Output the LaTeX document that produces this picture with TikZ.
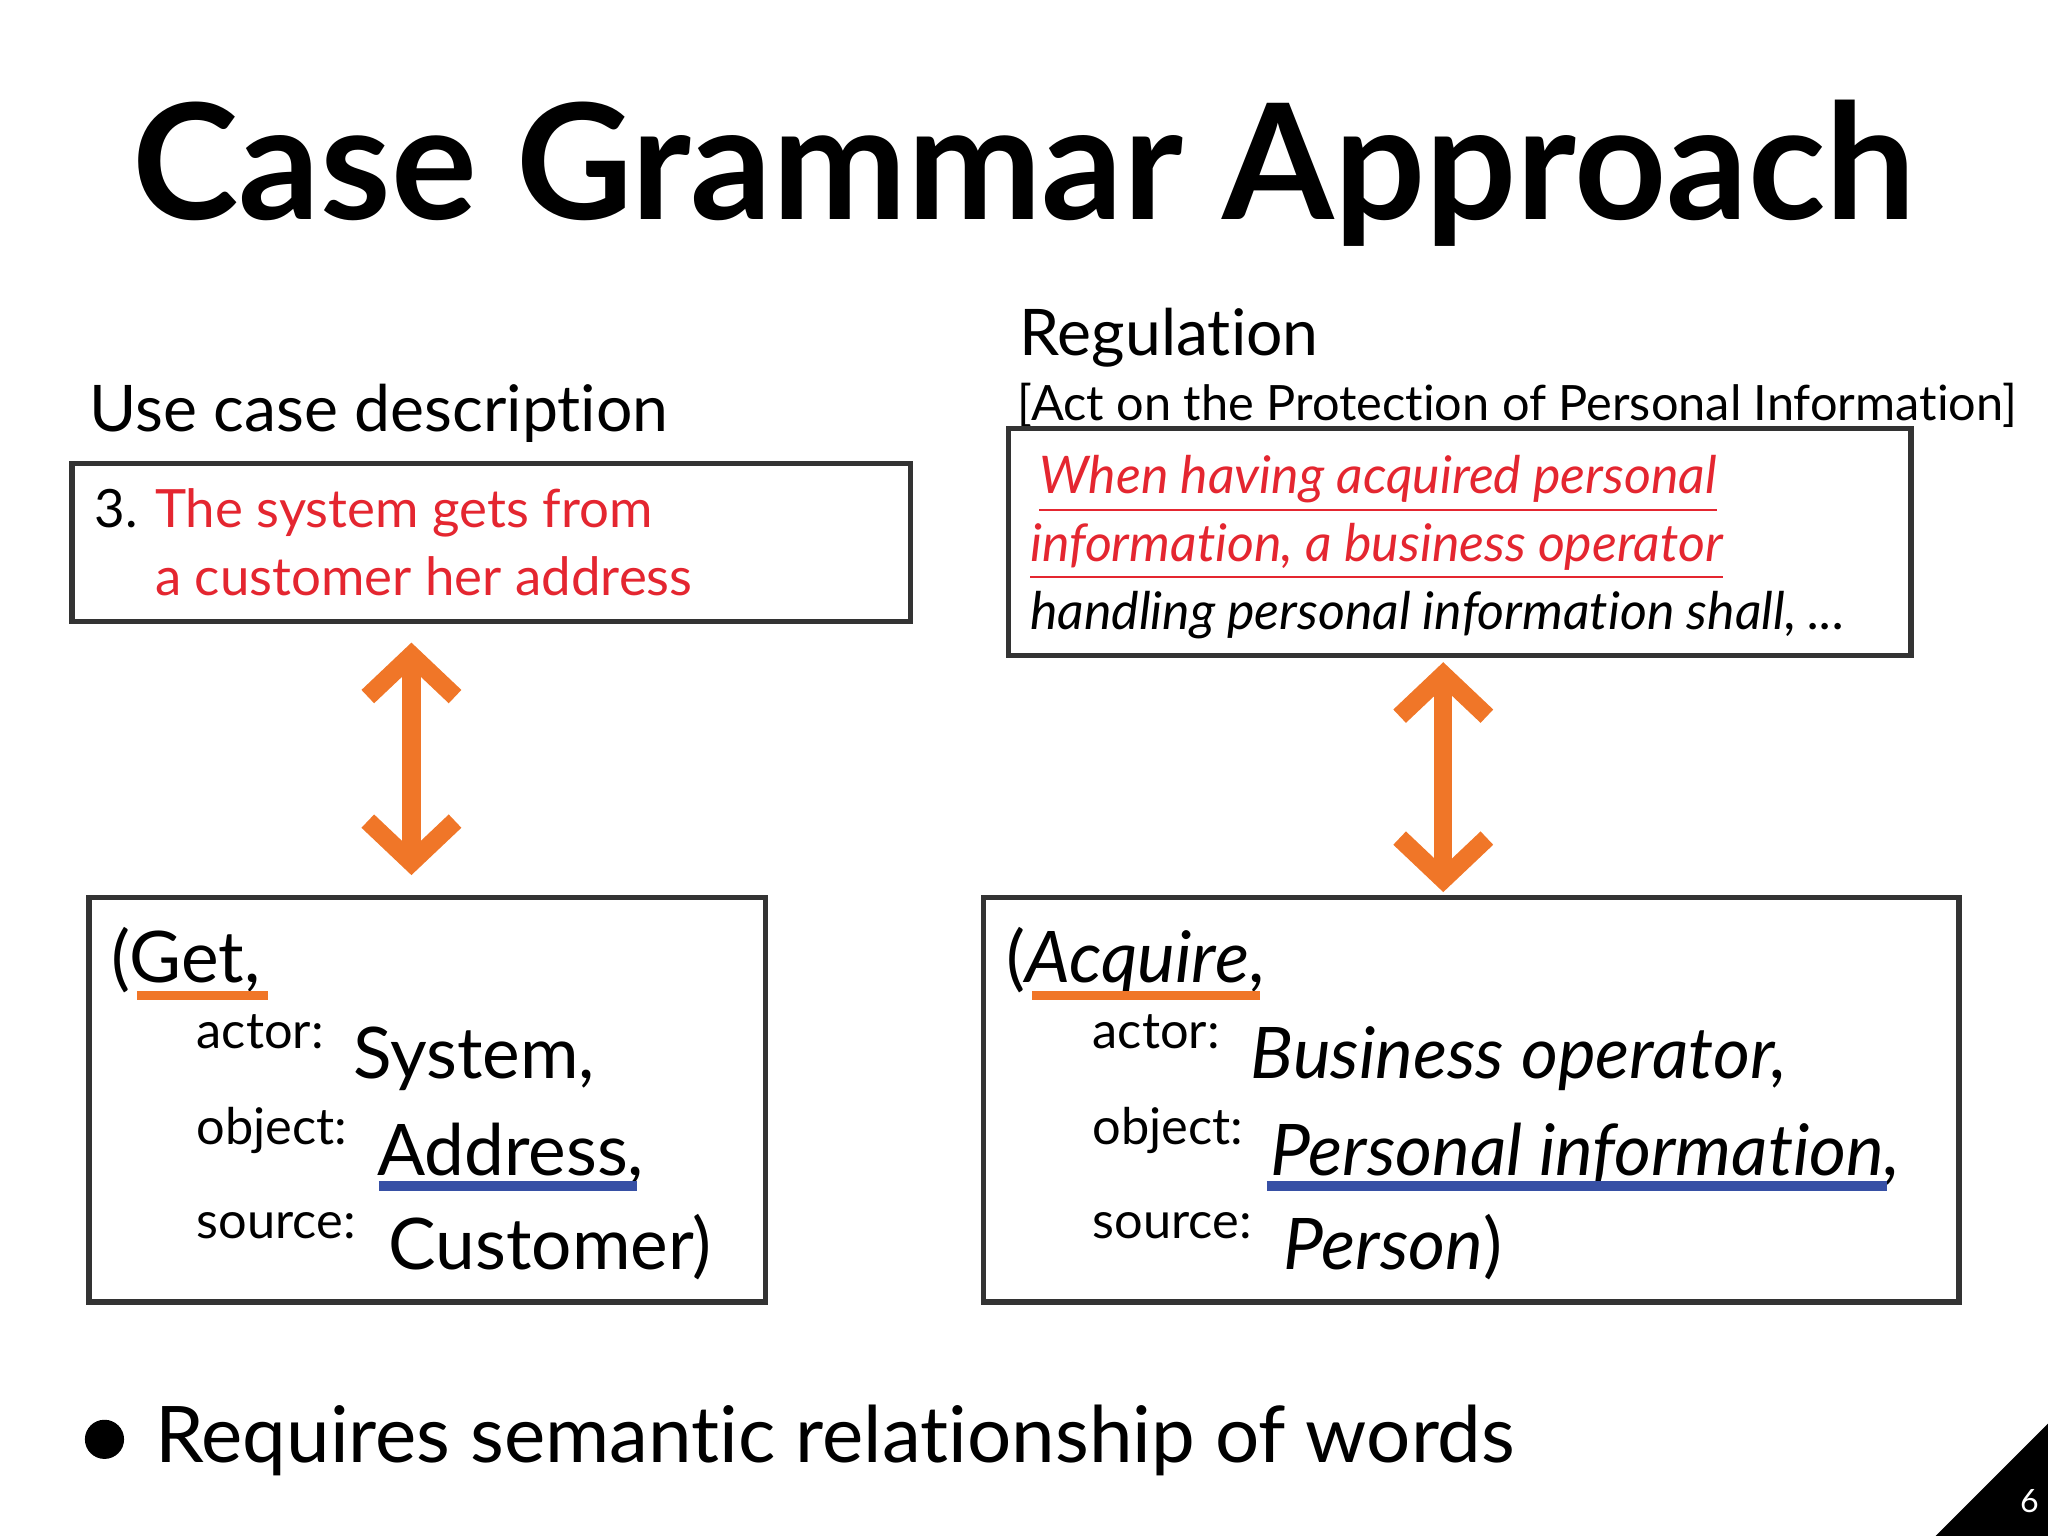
\documentclass[tikz,border=0pt]{standalone}
\usepackage{fontspec}
\setmainfont{Lato}[Ligatures=NoCommon]
\usetikzlibrary{arrows.meta}
\definecolor{rd}{RGB}{228,38,48}
\definecolor{org}{RGB}{240,118,40}
\definecolor{blu}{RGB}{55,80,165}
\tikzset{
  box/.style={draw=black!80,line width=1.2pt},
  txt/.style={anchor=base west,inner sep=0pt},
  dbl/.style={org,line width=4pt,{Straight Barb[length=9pt,width=19pt,line width=4pt]}-{Straight Barb[length=9pt,width=19pt,line width=4pt]}},
  ul/.style={line width=2pt}
}
\begin{document}
\begin{tikzpicture}[x=0.01cm,y=-0.01cm]
\useasboundingbox (0,0) rectangle (1568,1176);
\node[anchor=base,inner sep=0pt,font=\fontsize{35}{40}\selectfont\bfseries] (title) at (784,168) {Case Grammar Approach};
\node[txt,font=\fontsize{14}{16}\selectfont] (uc) at (68,330) {Use case description};
\node[txt,font=\fontsize{14}{16}\selectfont] (reg) at (780,272) {Regulation};
\node[txt,font=\fontsize{10.6}{13}\selectfont] (act) at (778,322) {[Act on the Protection of Personal Information]};
\draw[box] (55,355) rectangle (697,476);
\node[txt,font=\fontsize{11.5}{13}\selectfont] (n3) at (72,404) {3.};
\node[txt,font=\fontsize{11.5}{13}\selectfont,text=rd] (l1) at (118,404) {The system gets from};
\node[txt,font=\fontsize{11.5}{13}\selectfont,text=rd] (l2) at (118,456) {a customer her address};
\draw[box] (772,328) rectangle (1463,502);
\node[txt,font=\fontsize{11.3}{13}\selectfont\itshape,text=rd] (r1) at (795,378) {\underline{When having acquired personal}};
\node[txt,font=\fontsize{11.3}{13}\selectfont\itshape,text=rd] (r2) at (788,430) {\underline{information, a business operator}};
\node[txt,font=\fontsize{11.3}{13}\selectfont\itshape] (r3) at (788,482) {handling personal information shall, ...};
\coordinate (a1) at (315,492); \coordinate (b1) at (315,670);
\coordinate (a2) at (1105,507); \coordinate (b2) at (1105,683);
\draw[dbl] (a1) -- (b1);
\draw[dbl] (a2) -- (b2);
\draw[box] (68,687) rectangle (586,997);
\draw[box] (753,687) rectangle (1500,997);
\tikzset{big/.style={txt,font=\fontsize{15.5}{18}\selectfont},sm/.style={txt,font=\fontsize{11}{13}\selectfont}}
\node[big] (g) at (85,752) {(Get,};
\node[sm] (ga) at (150,803) {actor:};
\node[big] (gs) at (270,826) {System,};
\node[sm] (go) at (150,876) {object:};
\node[big] (gad) at (288,900) {Address,};
\node[sm] (gso) at (150,948) {source:};
\node[big] (gc) at (297,972) {Customer)};
\draw[org,ul] (105,762) -- (205,762);
\draw[blu,ul] (290,908) -- (488,908);
\node[big] (q) at (770,752) {(\textit{Acquire},};
\node[sm] (qa) at (836,803) {actor:};
\node[big,font=\fontsize{15.5}{18}\selectfont\itshape] (qs) at (957,826) {Business operator,};
\node[sm] (qo) at (836,876) {object:};
\node[big,font=\fontsize{15.5}{18}\selectfont\itshape] (qad) at (972,900) {Personal information,};
\node[sm] (qso) at (836,948) {source:};
\node[big] (qc) at (982,972) {\textit{Person})};
\draw[org,ul] (790,762) -- (965,762);
\draw[blu,ul] (970,908) -- (1445,908);
\fill (80,1102) circle (15);
\node[txt,font=\fontsize{17}{20}\selectfont] (bul) at (118,1120) {Requires semantic relationship of words};
\fill (1568,1090) -- (1568,1176) -- (1482,1176) -- cycle;
\node[txt,font=\fontsize{7}{8}\selectfont,text=white] (pg) at (1546,1158) {6};
\end{tikzpicture}
\end{document}
